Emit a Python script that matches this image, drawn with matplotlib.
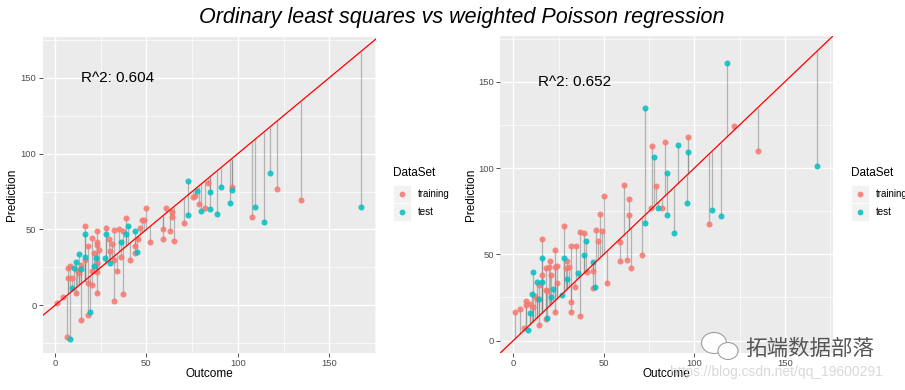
import matplotlib
matplotlib.use("Agg")
import matplotlib.pyplot as plt
from matplotlib.patches import Rectangle, Ellipse
from matplotlib.lines import Line2D
import numpy as np

plt.rcParams['font.family'] = ['Liberation Sans', 'DejaVu Sans']

W, H = 905, 390
TRAIN_COL = '#F8766D'
TEST_COL = '#00BFC4'

# ---------------- ordinary least squares ----------------
ols_outcome = [167.1, 134.3, 121.2, 117.4, 114.5, 109.5, 107.5, 96.6, 96.6, 95.5,
               90.8, 88.8, 84.7, 84.7, 83.7, 81.8, 79.8, 78.7, 77.8, 76.5,
               75.6, 72.7, 72.7, 70.7, 64.9, 63.8, 63.8, 62.9, 60.9, 58.9,
               58.9, 52.1, 49.8, 48.7, 47.4, 46.3, 45.2, 44.8, 43.9, 43.9,
               43.9, 41.2, 40.1, 39.0, 39.0, 37.2, 37.0, 36.1, 36.1, 35.0,
               34.1, 32.1, 32.1, 32.1, 31.2, 30.1, 30.1, 29.3, 28.1, 28.1,
               27.2, 24.1, 23.1, 23.1, 23.1, 23.1, 23.1, 23.1, 22.2, 21.1,
               21.1, 20.4, 20.0, 20.0, 19.1, 18.0, 18.0, 18.0, 16.2, 16.2,
               16.2, 16.2, 14.2, 14.2, 14.2, 13.3, 13.3, 12.1, 11.3, 11.3,
               9.3, 10.2, 9.3, 8.2, 7.3, 7.3, 6.4, 8.2, 4.4, 1.3]
ols_pred = [64.8, 69.2, 76.7, 87.2, 54.7, 65.0, 58.0, 75.8, 77.7, 67.2,
            77.7, 60.2, 74.7, 63.3, 80.4, 63.9, 61.9, 67.0, 75.3, 72.3,
            71.2, 82.1, 59.3, 54.5, 42.2, 58.2, 61.3, 48.8, 64.1, 50.3,
            43.9, 41.7, 63.9, 56.2, 56.2, 50.7, 43.5, 34.9, 34.3, 39.1,
            48.8, 29.9, 52.1, 57.3, 47.2, 48.8, 7.7, 41.5, 32.1, 50.1,
            22.4, 3.1, 49.4, 29.9, 40.6, 27.7, 36.0, 43.7, 50.7, 46.8,
            31.2, 36.7, 49.2, 41.5, 39.8, 22.0, 8.1, 27.7, 31.4, 34.7,
            26.1, 44.1, 13.6, 22.4, -4.4, -6.4, 39.1, 14.9, 52.3, 47.2,
            32.1, 29.9, -9.7, 24.2, 26.6, 33.6, 21.0, 23.3, 7.9, 28.8,
            17.8, 24.8, 11.2, 25.9, 24.4, 17.8, -20.6, -22.2, 5.7, 1.3]
ols_set = ['test', 'training', 'training', 'test', 'test', 'test', 'training', 'test', 'training', 'test',
           'test', 'test', 'test', 'test', 'training', 'training', 'test', 'training', 'test', 'training',
           'training', 'test', 'test', 'training', 'training', 'training', 'training', 'training', 'training', 'training',
           'training', 'training', 'training', 'training', 'training', 'training', 'training', 'test', 'training', 'training',
           'test', 'training', 'test', 'training', 'test', 'training', 'training', 'test', 'training', 'training',
           'training', 'training', 'training', 'training', 'training', 'test', 'training', 'training', 'training', 'test',
           'test', 'training', 'training', 'training', 'training', 'training', 'training', 'training', 'test', 'training',
           'test', 'training', 'training', 'training', 'test', 'training', 'training', 'training', 'training', 'test',
           'test', 'training', 'training', 'test', 'training', 'test', 'training', 'training', 'training', 'test',
           'training', 'test', 'test', 'training', 'training', 'training', 'training', 'test', 'training', 'training']

# ---------------- weighted Poisson ----------------
pois_outcome = [167.7, 134.9, 122.0, 117.8, 114.7, 109.7, 107.9, 96.7, 96.7, 95.8,
                91.0, 88.8, 84.8, 84.8, 83.9, 82.0, 80.2, 78.9, 77.8, 76.7,
                75.8, 72.8, 72.8, 71.0, 65.0, 63.9, 63.9, 62.9, 60.9, 58.9,
                58.9, 51.9, 49.9, 49.0, 47.9, 47.0, 45.9, 45.0, 44.0, 44.0,
                44.0, 40.9, 40.0, 38.9, 38.9, 36.9, 36.9, 36.0, 34.9, 33.9,
                31.9, 31.9, 31.9, 31.0, 29.9, 29.9, 29.0, 27.9, 27.9, 27.0,
                24.0, 24.0, 22.9, 22.9, 22.9, 22.0, 21.1, 21.1, 20.2, 19.8,
                18.9, 18.9, 18.0, 18.0, 18.0, 16.0, 16.0, 16.0, 16.0, 14.1,
                14.1, 14.1, 13.0, 13.0, 12.1, 11.0, 11.0, 10.1, 9.0, 9.0,
                7.0, 7.0, 7.9, 6.1, 4.0, 1.1]
pois_pred = [101.0, 109.7, 124.1, 160.8, 72.4, 75.7, 67.8, 109.5, 118.0, 79.9,
             113.1, 62.4, 97.3, 72.8, 115.0, 77.0, 76.6, 89.8, 106.2, 112.5,
             77.0, 134.9, 68.3, 49.6, 42.3, 81.9, 72.8, 46.7, 90.3, 57.0,
             46.3, 33.6, 83.6, 63.3, 73.4, 57.7, 64.1, 31.3, 30.3, 45.4,
             40.5, 39.8, 57.7, 62.2, 49.4, 62.9, 14.3, 39.4, 54.6, 30.9,
             54.6, 22.6, 16.4, 42.9, 35.5, 45.9, 42.3, 48.1, 66.4, 26.4,
             33.6, 43.2, 52.5, 42.5, 16.6, 30.1, 25.5, 37.8, 46.1, 42.5,
             28.8, 13.1, 12.7, 42.3, 29.3, 59.1, 47.7, 34.2, 38.0, 9.3,
             24.3, 32.0, 33.8, 24.3, 26.1, 19.7, 39.8, 27.0, 21.2, 15.8,
             22.8, 20.5, 6.0, 7.3, 18.1, 16.4]
pois_set = ['test', 'training', 'training', 'test', 'test', 'test', 'training', 'test', 'training', 'test',
            'test', 'test', 'test', 'test', 'training', 'training', 'test', 'training', 'test', 'training',
            'training', 'test', 'test', 'training', 'training', 'training', 'training', 'training', 'training', 'training',
            'training', 'training', 'training', 'training', 'training', 'training', 'training', 'test', 'training', 'test',
            'training', 'training', 'test', 'training', 'test', 'training', 'training', 'test', 'training', 'training',
            'training', 'training', 'training', 'training', 'test', 'training', 'training', 'test', 'training', 'test',
            'training', 'training', 'training', 'training', 'training', 'test', 'test', 'training', 'training', 'training',
            'training', 'test', 'training', 'training', 'training', 'training', 'test', 'test', 'training', 'training',
            'test', 'training', 'test', 'training', 'training', 'training', 'test', 'test', 'training', 'test',
            'training', 'training', 'test', 'training', 'training', 'training']

ticks = [0, 50, 100, 150]
minor_ticks = [-25, 25, 75, 125, 175]


def px(x, y):
    return x / W, 1 - y / H


def draw_panel(ax, outcome, pred, dataset, xlim, ylim, r2, ylab_x):
    outcome = np.array(outcome)
    pred = np.array(pred)
    ds = np.array(dataset)
    ax.set_facecolor('#EBEBEB')
    ax.vlines(outcome, pred, outcome, color='#7a7a7a', alpha=0.5, lw=0.9, zorder=2)
    for name, col in (('training', TRAIN_COL), ('test', TEST_COL)):
        m = ds == name
        ax.scatter(outcome[m], pred[m], s=19, color=col, alpha=0.85, lw=0, zorder=3)
    ax.axline((0, 0), slope=1, color='red', lw=0.9, zorder=4)
    ax.text(34, 150, r2, ha='center', va='center', fontsize=11, color='black')
    ax.set_xticks(ticks)
    ax.set_yticks(ticks)
    ax.set_xticks(minor_ticks, minor=True)
    ax.set_yticks(minor_ticks, minor=True)
    # limits after the ticks, so that the minor ticks do not widen them
    ax.set_xlim(xlim)
    ax.set_ylim(ylim)
    ax.grid(which='major', color='white', lw=1.0)
    ax.grid(which='minor', color='white', lw=0.5)
    ax.set_axisbelow(True)
    ax.tick_params(which='minor', length=0)
    ax.tick_params(which='major', length=3, width=0.6, color='#333333',
                   labelsize=6.8, labelcolor='#4D4D4D', pad=1.5)
    for s in ax.spines.values():
        s.set_visible(False)
    ax.text(0.5, -0.066, 'Outcome', transform=ax.transAxes, ha='center', va='center', fontsize=8.5)
    ax.text(ylab_x, 0.5, 'Prediction', transform=ax.transAxes, rotation=90,
            ha='center', va='center', fontsize=8.5)


def draw_legend(fig, x0):
    fig.text(*px(x0, 173), 'DataSet', ha='left', va='center', fontsize=8.5)
    for i, (name, col) in enumerate((('training', TRAIN_COL), ('test', TEST_COL))):
        yc = 194 + 18 * i
        bx, by = px(x0, yc + 8.7)
        fig.add_artist(Rectangle((bx, by), 17.5 / W, 17.4 / H, transform=fig.transFigure,
                                 facecolor='#F2F2F2', edgecolor='white', lw=0.6))
        fig.add_artist(Line2D([px(x0 + 8.7, yc)[0]], [px(x0 + 8.7, yc)[1]], marker='o',
                              markersize=4.2, color=col, alpha=0.85, markeredgewidth=0,
                              transform=fig.transFigure))
        fig.text(*px(x0 + 25, yc), name, ha='left', va='center', fontsize=7)


fig = plt.figure(figsize=(W / 100, H / 100), dpi=100)

ax1 = fig.add_axes([42.7 / W, 1 - 352.7 / H, 333.3 / W, 316 / H])
draw_panel(ax1, ols_outcome, ols_pred, ols_set, (-6.7, 175.5), (-31.2, 177.0), 'R^2: 0.604', -0.092)
draw_legend(fig, 393)

ax2 = fig.add_axes([500 / W, 1 - 352.7 / H, 333.3 / W, 316.7 / H])
draw_panel(ax2, pois_outcome, pois_pred, pois_set, (-7.3, 176.7), (-7.0, 176.5), 'R^2: 0.652', -0.087)
draw_legend(fig, 851)

fig.text(*px(462, 18), 'Ordinary least squares vs weighted Poisson regression',
         ha='center', va='center', fontsize=15.5, style='italic')

# watermark
for cx, cy, w, h in ((714, 343, 25, 21), (728, 351, 20, 17)):
    ex, ey = px(cx, cy)
    fig.add_artist(Ellipse((ex, ey), w / W, h / H, transform=fig.transFigure,
                           facecolor='white', edgecolor='#9a9a9a', lw=0.8, alpha=0.95))
fig.text(*px(745, 349), '拓端数据部落', ha='left', va='center', fontsize=15.5,
         color='#555555', family=['Noto Sans CJK SC', 'DejaVu Sans'])
fig.text(*px(776, 372), 'https://blog.csdn.net/qq_19600291', ha='center', va='center',
         fontsize=10, color='#D5D5D5', family=['Liberation Sans', 'DejaVu Sans'], alpha=0.9)

fig.savefig('out.png', dpi=100)
